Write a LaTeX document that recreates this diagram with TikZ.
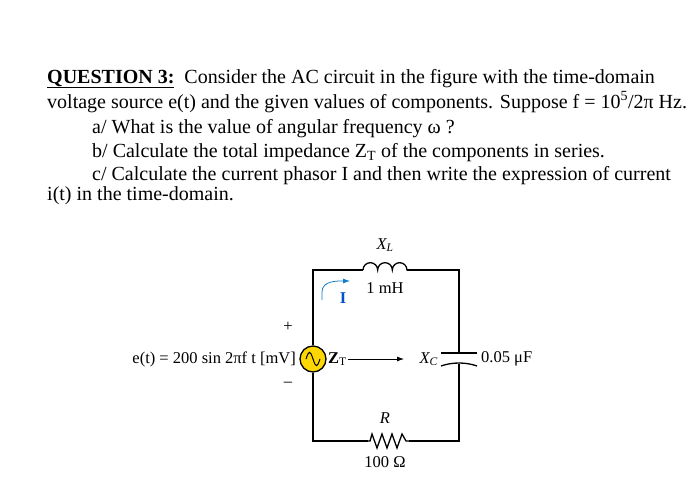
\documentclass[tikz,border=0pt]{standalone}
\usepackage{fontspec}
\setmainfont{Liberation Serif}
\usetikzlibrary{decorations.pathmorphing,arrows.meta}
\begin{document}
\begin{tikzpicture}[x=1pt,y=-1pt,
  txt/.style={anchor=base west,inner sep=0,font=\fontsize{20}{22}\selectfont},
  lab/.style={inner sep=1pt,font=\fontsize{16.5}{18}\selectfont},
  wire/.style={line width=1.3pt}]
\useasboundingbox (0,0) rectangle (700,501);
\fill[white] (0,0) rectangle (700,501);
\node[txt] (l1) at (47,83) {\textbf{\underline{QUESTION 3:}}\ \ Consider the AC circuit in the figure with the time-domain};
\node[txt] (l2) at (47,108) {voltage source e(t) and the given values of components. Suppose f = 10\textsuperscript{5}/2π Hz.};
\node[txt] (l3) at (92,133) {a/ What is the value of angular frequency ω ?};
\node[txt] (l4) at (92,157) {b/ Calculate the total impedance Z\textsubscript{T} of the components in series.};
\node[txt] (l5) at (92,180) {c/ Calculate the current phasor I and then write the expression of current};
\node[txt] (l6) at (47,200) {i(t) in the time-domain.};
% circuit
\coordinate (tl) at (313,270); \coordinate (tr) at (459,270);
\coordinate (bl) at (313,441); \coordinate (br) at (459,441);
\coordinate (li) at (363,270); \coordinate (lo) at (407,270);
\coordinate (ri) at (368,441); \coordinate (ro) at (409,441);
\coordinate (ct) at (459,353); \coordinate (cb) at (459,364);
\node[circle,draw,wire,fill=yellow!75!orange,minimum size=26pt,inner sep=0] (src) at (313,359) {};
\draw[line width=1pt] ([xshift=-7pt]src.center) .. controls ++(3,-9) and ++(-3,-9) .. (src.center) .. controls ++(3,9) and ++(-3,9) .. ([xshift=7pt]src.center);
\draw[wire] (src.north) -- (tl) -- (li);
\draw[wire] (li) arc[start angle=180,end angle=360,radius=7.33] arc[start angle=180,end angle=360,radius=7.33] arc[start angle=180,end angle=360,radius=7.33] -- (lo);
\draw[wire] (lo) -- (tr) -- (ct);
\draw[wire] (441,353) -- (477,353);
\draw[wire] (441,366) .. controls (452,362) and (466,362) .. (477,366);
\draw[wire] (459,364) -- (br) -- (ro);
\draw[wire] (ro) -- (406,441) -- (402,434) -- (397,448) -- (392,434) -- (387,448) -- (382,434) -- (377,448) -- (372,434) -- (370,441) -- (ri);
\draw[wire] (ri) -- (bl) -- (src.south);
\node[lab] (xl) at (385,245) {\textit{X\textsubscript{L}}};
\node[lab] (lv) at (385,288) {1 mH};
\node[lab] (rl) at (385,418) {\textit{R}};
\node[lab] (rv) at (385,462) {100 Ω};
\node[lab,anchor=east] (xc) at (439,359) {\textit{X\textsubscript{C}}};
\node[lab,anchor=west] (cv) at (480,359) {0.05 μF};
\node[lab,anchor=east] (e) at (297,359) {e(t) = 200 sin 2πf t [mV]};
\node[lab] (pl) at (288,327) {+};
\node[lab] (mi) at (288,384) {\textendash};
\node[lab,anchor=west] (zt) at (327,359) {\textbf{Z}\textsubscript{T}};
\draw[-{Latex[length=7pt,width=5pt]},line width=0.8pt] (zt.east) -- (404,359);
\node[lab,text=blue!60!cyan!80!black] (I) at (343,298) {\textbf{I}};
\coordinate (ia) at (322,300); \coordinate (ib) at (350,281);
\draw[-{Latex[length=7pt,width=5pt]},line width=0.8pt,draw=cyan!60!blue] (ia) -- (322,292) to[out=90,in=180] (ib);
\end{tikzpicture}
\end{document}
